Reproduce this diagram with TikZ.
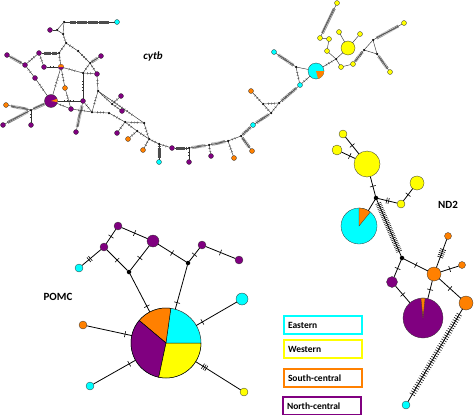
\documentclass[tikz,border=0pt]{standalone}
\usepackage{fontspec}
\setmainfont{Carlito}
\usetikzlibrary{decorations.markings}
\definecolor{ecol}{RGB}{0,255,255}
\definecolor{wcol}{RGB}{255,255,0}
\definecolor{scol}{RGB}{255,128,0}
\definecolor{ncol}{RGB}{128,0,128}
\begin{document}
\begin{tikzpicture}[x=1pt, y=-1pt,
    hap/.style={circle, draw=black!80, line width=0.3pt, inner sep=0pt, outer sep=0pt, minimum size=#1},
    hap/.default=5pt,
    mv/.style={circle, fill=black, inner sep=0pt, outer sep=0pt, minimum size=#1},
    mv/.default=2.5pt,
    ce/.style={draw=black!80, line width=0.45pt},
    ne/.style={draw=black, line width=0.8pt},
    sm/.style={postaction={decorate, decoration={markings, mark=between positions 0.3 and 0.75 step 3pt with {\draw[line width=0.3pt] (0,-1.2pt) -- (0,1.2pt);}}}},
    dense/.style={postaction={decorate, decoration={markings, mark=between positions 0.1 and 0.9 step 1.1pt with {\draw[line width=0.45pt, black!70] (0,-1.5pt) -- (0,1.5pt);}}}},
    ladder/.style={postaction={decorate, decoration={markings, mark=between positions 0.06 and 0.94 step #1 with {\draw[line width=0.5pt] (0,-3pt) -- (0,3pt);}}}},
    mut/.style 2 args={postaction={decorate, decoration={markings, mark=at position #1 with {\foreach \k in {1,...,#2}{\draw[line width=0.6pt] ({(\k-0.5-#2/2)*2pt},-3pt) -- ++(0,6pt);}}}}},
    lab/.style={font=\fontsize{11}{13}\selectfont\bfseries, inner sep=1pt},
    legbox/.style={draw=#1, line width=1.3pt, text width=70pt, inner xsep=4pt, minimum height=18pt, align=left, font=\fontsize{9.5}{11}\selectfont\bfseries}]
\useasboundingbox (0,0) rectangle (474,415);

% cytb: median vectors
\node[mv] (cm1) at (64,22) {};
\node[mv] (cm2) at (57,30) {};
\node[mv] (cm3) at (63,34) {};
\node[mv] (cm4) at (66,43) {};
\node[mv] (cm5) at (78,51) {};
\node[mv] (cm6) at (59,53) {};
\node[mv] (cm7) at (83,73) {};
\node[mv] (cm8) at (90,63) {};
\node[mv] (cm9) at (98,91) {};
\node[mv] (cm10) at (92,112) {};
\node[mv] (cm11) at (109,113) {};
\node[mv] (cm12) at (112,104) {};
\node[mv] (cm13) at (125,122) {};
\node[mv] (cm14) at (144,123) {};
\node[mv] (cm15) at (137,131) {};
\node[mv] (cm16) at (149,139) {};
\node[mv] (cm17) at (159,144) {};
\node[mv] (cm18) at (189,148) {};
\node[mv] (cm19) at (209,145) {};
\node[mv] (cm20) at (228,141) {};
\node[mv] (cm21) at (241,136) {};
\node[mv] (cm22) at (271,113) {};
\node[mv] (cm23) at (263,104) {};
\node[mv] (cm24) at (279,103) {};
\node[mv] (cm25) at (296,67) {};
\node[mv] (cm26) at (336,59) {};
\node[mv] (cm27) at (364,50) {};
\node[mv] (cm28) at (373,40) {};
\node[mv] (cm29) at (377,54) {};
\node[mv] (cm30) at (31,110) {};

% cytb: haplotypes
\node[hap, fill=ecol] (ce1) at (117,22) {};
\node[hap, fill=ncol] (cp1) at (50,30) {};
\node[hap, fill=ncol] (cp2) at (39,53) {};
\node[hap, fill=ncol] (cp3) at (7,55) {};
\node[hap, fill=ncol] (cp4) at (25,65) {};
\node[hap, fill=ncol] (cp5) at (44,67) {};
\node[hap=5.5pt, fill=ncol] (cpo) at (61,67) {};
\node[hap, fill=ncol] (cp6) at (35,78) {};
\node[hap, fill=scol] (co1) at (65,88) {};
\node[hap=13pt, fill=ncol] (cbig) at (51,101) {};
\node[hap, fill=ncol] (cp7) at (97,74) {};
\node[hap, fill=ncol] (cp8) at (101,56) {};
\node[hap, fill=ncol] (cp9) at (83,101) {};
\node[hap, fill=ncol] (cp10) at (71,109) {};
\node[hap, fill=ncol] (cp11) at (76,132) {};
\node[hap, fill=ncol] (cp12) at (121,96) {};
\node[hap, fill=ncol] (cp13) at (122,111) {};
\node[hap, fill=ncol] (cp14) at (117,133) {};
\node[hap, fill=scol] (co2) at (128,139) {};
\node[hap, fill=scol] (co3) at (143,150) {};
\node[hap, fill=ecol] (ce2) at (159,162) {};
\node[hap, fill=ncol] (cp15) at (172,148) {};
\node[hap, fill=ncol] (cp16) at (189,162) {};
\node[hap, fill=ncol] (cp17) at (211,156) {};
\node[hap, fill=scol] (co4) at (234,158) {};
\node[hap, fill=scol] (co5) at (252,151) {};
\node[hap, fill=ecol] (ce3) at (253,125) {};
\node[hap, fill=scol] (co6) at (251,91) {};
\node[hap, fill=ecol] (ce4) at (300,85) {};
\node[hap=16pt, fill=ecol] (cbc) at (316,71) {};
\node[hap, fill=ecol] (ce5) at (274,52) {};
\node[hap, fill=wcol] (cy1) at (327,51) {};
\node[hap, fill=wcol] (cy2) at (329,39) {};
\node[hap, fill=wcol] (cy3) at (320,38) {};
\node[hap, fill=wcol] (cy4) at (337,3) {};
\node[hap=14pt, fill=wcol] (cby) at (348,48) {};
\node[hap, fill=wcol] (cy5) at (339,32) {};
\node[hap, fill=wcol] (cy6) at (360,34) {};
\node[hap, fill=wcol] (cy7) at (341,67) {};
\node[hap, fill=wcol] (cy8) at (353,64) {};
\node[hap, fill=wcol] (cy9) at (404,23) {};
\node[hap, fill=wcol] (cy10) at (390,72) {};
\node[hap, fill=scol] (co7) at (6,105) {};
\node[hap, fill=ncol] (cp18) at (3,125) {};
\node[hap, fill=ncol] (cp19) at (31,125) {};

\fill[scol] (cbig.center) -- (cbig.-10) arc[start angle=-10, end angle=20, radius=6.5pt] -- cycle;
\fill[scol] (cbc.center) -- (cbc.-75) arc[start angle=-75, end angle=0, radius=8pt] -- cycle;
\fill[scol] (cpo.center) -- (cpo.0) arc[start angle=0, end angle=180, radius=2.75pt] -- cycle;

% cytb: links
\draw[ce, dense] (cm1) -- (ce1);
\draw[ce] (cm1) -- (cm2);
\draw[ce] (cm2) -- (cm3);
\draw[ce] (cm1) -- (cm3);
\draw[ce] (cp1) -- (cm2);
\draw[ce, sm] (cm3) -- (cm4);
\draw[ce, sm] (cm4) -- (cm5);
\draw[ce, sm] (cm4) -- (cm6);
\draw[ce, dense] (cm6) -- (cp2);
\draw[ce, sm] (cm6) -- (cpo);
\draw[ce, sm] (cp2) -- (cp4);
\draw[ce, sm] (cp2) -- (cp5);
\draw[ce, dense] (cp3) -- (cp4);
\draw[ce, sm] (cp4) -- (cp6);
\draw[ce, sm] (cp5) -- (cpo);
\draw[ce, sm] (cp6) -- (cbig);
\draw[ce, sm] (cpo) -- (cbig);
\draw[ce, sm] (cpo) -- (co1);
\draw[ce, sm] (co1) -- (cp10);
\draw[ce, sm] (cpo) -- (cm7);
\draw[ce, sm] (cm5) -- (cm8);
\draw[ce, sm] (cm8) -- (cm7);
\draw[ce, sm] (cm8) -- (cp7);
\draw[ce, dense] (cm8) -- (cp8);
\draw[ce, sm] (cm7) -- (cp7);
\draw[ce, sm] (cm7) -- (cp9);
\draw[ce, sm] (cp7) -- (cm9);
\draw[ce, sm] (cbig) -- (cp9);
\draw[ce, sm] (cbig) -- (cp10);
\draw[ce, sm] (cp9) -- (cm10);
\draw[ce, sm] (cm9) -- (cm10);
\draw[ce, dense] (cp9) -- (cp11);
\draw[ce, sm] (cp10) -- (cm10);
\draw[ce, sm] (cm10) -- (cm11);
\draw[ce, sm] (cm9) -- (cm12);
\draw[ce, sm] (cm12) -- (cp12);
\draw[ce, sm] (cm12) -- (cp13);
\draw[ce, sm] (cm9) -- (cm14);
\draw[ce, sm] (cm11) -- (cm13);
\draw[ce, sm] (cm13) -- (cm14);
\draw[ce, sm] (cm13) -- (cm15);
\draw[ce, sm] (cm13) -- (cp14);
\draw[ce, sm] (cm15) -- (co2);
\draw[ce, sm] (cm15) -- (cm16);
\draw[ce, sm] (cm14) -- (cm16);
\draw[ce, sm] (cm16) -- (co3);
\draw[ce, sm] (cm16) -- (cm17);
\draw[ce, dense] (cm17) -- (ce2);
\draw[ce, sm] (cm17) -- (cp15);
\draw[ce, dense] (cp15) -- (cm18);
\draw[ce, sm] (cm18) -- (cp16);
\draw[ce, dense] (cm18) -- (cm19);
\draw[ce, sm] (cm19) -- (cp17);
\draw[ce, dense] (cm19) -- (cm20);
\draw[ce, sm] (cm20) -- (co4);
\draw[ce, sm] (cm20) -- (cm21);
\draw[ce, dense] (cm21) -- (co5);
\draw[ce, dense] (cm21) -- (ce3);
\draw[ce, dense] (ce3) -- (cm22);
\draw[ce, sm] (cm22) -- (cm23);
\draw[ce, sm] (cm22) -- (cm24);
\draw[ce, sm] (cm23) -- (cm24);
\draw[ce, sm] (cm23) -- (co6);
\draw[ce, dense] (cm24) -- (ce4);
\draw[ce, sm] (ce4) -- (cm25);
\draw[ce, sm] (ce4) -- (cbc);
\draw[ce] (cm25) -- (cbc);
\draw[ce, dense] (cm25) -- (ce5);
\draw[ce, sm] (cbc) -- (cm26);
\draw[ce] (cm26) -- (cy1);
\draw[ce] (cy1) -- (cy2);
\draw[ce] (cy2) -- (cy3);
\draw[ce, dense] (cy3) -- (cy4);
\draw[ce] (cm26) -- (cby);
\draw[ce] (cby) -- (cy5);
\draw[ce] (cby) -- (cy6);
\draw[ce] (cm26) -- (cy7);
\draw[ce] (cy7) -- (cy8);
\draw[ce, dense] (cy8) -- (cm27);
\draw[ce] (cm27) -- (cm28);
\draw[ce] (cm27) -- (cm29);
\draw[ce] (cm28) -- (cm29);
\draw[ce, dense] (cm28) -- (cy9);
\draw[ce, dense] (cm29) -- (cy10);
\draw[ce, dense] (cbig) -- (cm30);
\draw[ce, dense] (cm30) -- (co7);
\draw[ce, dense] (cm30) -- (cp18);
\draw[ce, sm] (cm30) -- (cp19);

\node[lab] (tcytb) at (153,57) {\itshape cytb};

% ND2
\node[hap=8pt, fill=wcol] (ny1) at (343,134) {};
\node[hap=10pt, fill=wcol] (ny2) at (337,150) {};
\node[hap=26pt, fill=wcol] (nby) at (367,164) {};
\node[hap=14pt, fill=wcol] (ny3) at (417,183) {};
\node[mv=4.5pt] (nm1) at (376,198) {};
\node[hap=8pt, fill=wcol] (ny4) at (401,204) {};
\node[hap=36pt, fill=ecol] (nbc) at (359,226) {};
\node[mv=4.5pt] (nm2) at (402,258) {};
\node[hap=7pt, fill=scol] (no1) at (448,236) {};
\node[hap=7pt, fill=scol] (no2) at (462,265) {};
\node[hap=14pt, fill=scol] (nbo) at (434,274) {};
\node[hap=11pt, fill=ncol] (np1) at (392,282) {};
\node[hap=14pt, fill=scol] (no3) at (466,303) {};
\node[hap=40pt, fill=ncol] (nbp) at (423,318) {};
\node[hap=8pt, fill=ecol] (ne1) at (406,405) {};

\filldraw[fill=scol, draw=black!80, line width=0.3pt] (nbc.center) -- (nbc.51) arc[start angle=51, end angle=90, radius=18pt] -- cycle;
\filldraw[fill=scol, draw=black!80, line width=0.3pt] (nbp.center) -- (nbp.84) arc[start angle=84, end angle=96, radius=20pt] -- cycle;

\draw[ne, mut={0.5}{1}] (ny1) -- (nby);
\draw[ne, mut={0.6}{1}] (ny2) -- (nby);
\draw[ne, mut={0.5}{1}] (nby) -- (nm1);
\draw[ne, mut={0.5}{2}] (nm1) -- (ny4);
\draw[ne, mut={0.5}{1}] (ny4) -- (ny3);
\draw[ne] (nm1) -- (nbc);
\draw[ne, ladder=1.8pt] (nm1) -- (nm2);
\draw[ne, mut={0.5}{1}] (nm2) -- (np1);
\draw[ne, mut={0.5}{1}] (np1) -- (nbp);
\draw[ne, mut={0.5}{1}] (nm2) -- (nbo);
\draw[ne, mut={0.5}{5}] (nbo) -- (no1);
\draw[ne, mut={0.5}{1}] (nbo) -- (no2);
\draw[ne, mut={0.5}{1}] (nbo) -- (nbp);
\draw[ne, mut={0.5}{1}] (nbo) -- (no3);
\draw[ne, ladder=2.5pt] (no3) -- (ne1);

\node[lab] (tnd2) at (448,205) {ND2};

% POMC
\node[hap=8pt, fill=ncol] (pp1) at (118,226) {};
\node[hap=8pt, fill=ncol] (pp2) at (104,247) {};
\node[hap=8pt, fill=ecol] (pe1) at (79,268) {};
\node[hap=12pt, fill=ncol] (pbp) at (153,241) {};
\node[mv=4.5pt] (pm1) at (129,272) {};
\node[mv=4.5pt] (pm2) at (188,263) {};
\node[hap=8pt, fill=ncol] (pp3) at (202,245) {};
\node[hap=8pt, fill=ncol] (pp4) at (239,260) {};
\node[hap=70pt, fill=ecol, line width=0.5pt] (pie) at (166,343) {};
\node[hap=12pt, fill=ecol] (pe2) at (242,299) {};
\node[hap=8pt, fill=scol] (po1) at (83,325) {};
\node[hap=8pt, fill=ecol] (pe3) at (90,386) {};
\node[hap=8pt, fill=wcol] (py1) at (244,392) {};

\filldraw[fill=scol, draw=black, line width=0.5pt] (pie.center) -- (pie.82) arc[start angle=82, end angle=140, radius=35pt] -- cycle;
\filldraw[fill=ncol, draw=black, line width=0.5pt] (pie.center) -- (pie.140) arc[start angle=140, end angle=258, radius=35pt] -- cycle;
\filldraw[fill=wcol, draw=black, line width=0.5pt] (pie.center) -- (pie.258) arc[start angle=258, end angle=360, radius=35pt] -- cycle;

\draw[ne, mut={0.4}{2}] (pe1) -- (pp2);
\draw[ne, mut={0.5}{1}] (pp2) -- (pp1);
\draw[ne, mut={0.5}{1}] (pp1) -- (pbp);
\draw[ne, mut={0.5}{1}] (pp2) -- (pm1);
\draw[ne, mut={0.5}{1}] (pbp) -- (pm1);
\draw[ne, mut={0.85}{1}] (pm1) -- (pie);
\draw[ne, mut={0.5}{1}] (pbp) -- (pm2);
\draw[ne, mut={0.5}{1}] (pm2) -- (pp3);
\draw[ne, mut={0.5}{1}] (pp3) -- (pp4);
\draw[ne, mut={0.85}{1}] (pm2) -- (pie);
\draw[ne, mut={0.15}{1}] (pie) -- (pe2);
\draw[ne, mut={0.15}{1}] (pie) -- (po1);
\draw[ne, mut={0.15}{1}] (pie) -- (pe3);
\draw[ne, mut={0.2}{3}] (pie) -- (py1);

\node[lab] (tpomc) at (58,297) {POMC};

% legend
\node[legbox=ecol] (leg1) at (323,325) {Eastern};
\node[legbox=wcol] (leg2) at (323,349) {Western};
\node[legbox=scol] (leg3) at (323,378) {South-central};
\node[legbox=ncol] (leg4) at (322,406) {North-central};
\end{tikzpicture}
\end{document}
